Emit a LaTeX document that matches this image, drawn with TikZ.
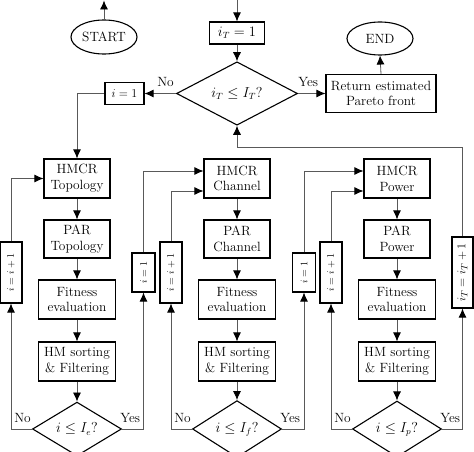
\documentclass[tikz,border=0pt]{standalone}
\usepackage{graphicx}
\usetikzlibrary{shapes.geometric,arrows.meta,calc}
\begin{document}
\begin{tikzpicture}[x=1pt,y=-1pt, font=\fontsize{13.4}{15.7}\selectfont,
 box/.style={draw, line width=1.1pt, inner sep=0pt, align=center},
 term/.style={draw, ellipse, line width=1.1pt, inner sep=0pt},
 dec/.style={draw, diamond, line width=1.1pt, inner sep=0pt},
 smallm/.style={font=\fontsize{10.4}{12}\selectfont},
 arr/.style={draw=black!65, line width=0.8pt, -{Latex[color=black,length=9pt,width=8pt]}},
 lab/.style={inner sep=1pt}]
\useasboundingbox (0,0) rectangle (474,452);
% top part
\node[term, minimum width=66pt, minimum height=34pt] (start) at (104,37) {START};
\coordinate (startup) at (104,0.5);
\draw[arr] (start.north) -- (startup);
\coordinate (topin) at (237,0);
\node[box, minimum width=55pt, minimum height=22pt] (it1) at (237,33) {$i_T=1$};
\draw[arr] (topin) -- (it1.north);
\node[dec, minimum width=121pt, minimum height=55pt] (dtop) at (237,93.5) {$i_T\le I_T?$};
\draw[arr] (it1.south) -- (dtop.north);
\node[box, minimum width=110pt, minimum height=38pt] (ret) at (381,93.5) {Return estimated\\Pareto front};
\node[term, minimum width=66pt, minimum height=33pt] (end) at (380,38.5) {END};
\draw[arr] (ret.north) -- (end.south);
\node[box, minimum width=39pt, minimum height=22pt, font=\fontsize{11.5}{13}\selectfont] (ione) at (124.5,93.5) {$i=1$};
\draw[arr] (dtop.west) -- (ione.east);
\draw[arr] (dtop.east) -- (ret.west);
\node[lab, anchor=south east] (notop) at ($(dtop.west)+(-1,-6)$) {No};
\node[lab, anchor=south west] (yestop) at ($(dtop.east)+(-1,-6)$) {Yes};
% columns
\foreach \c/\x/\nm/\sub in {1/77/Topology/e,2/237/Channel/f,3/397/Power/p}{
 \node[box, minimum width=66pt, minimum height=39pt] (h\c) at (\x,178.5) {HMCR\\\nm};
 \node[box, minimum width=66pt, minimum height=38pt] (p\c) at (\x,239) {PAR\\\nm};
 \node[box, minimum width=77pt, minimum height=39pt] (f\c) at (\x,299.5) {Fitness\\evaluation};
 \node[box, minimum width=77pt, minimum height=39pt] (s\c) at (\x,361.5) {HM sorting\\\& Filtering};
 \node[dec, minimum width=89pt, minimum height=42pt] (d\c) at (\x,429) {$i\le I_\sub?$};
 \draw[arr] (h\c.south) -- (p\c.north);
 \draw[arr] (p\c.south) -- (f\c.north);
 \draw[arr] (f\c.south) -- (s\c.north);
 \draw[arr] (s\c.south) -- (d\c.north);
 \node[lab, anchor=south east] (no\c) at ($(d\c.west)+(0,-5)$) {No};
 \node[lab, anchor=south west] (yes\c) at ($(d\c.east)+(-3,-5)$) {Yes};
}
% side boxes
\node[box, smallm, minimum width=22pt, minimum height=61pt] (r1) at (11,272.5) {\rotatebox{90}{$i=i+1$}};
\node[box, smallm, minimum width=23pt, minimum height=39pt] (o2) at (143.5,272.5) {\rotatebox{90}{$i=1$}};
\node[box, smallm, minimum width=22pt, minimum height=61pt] (r2) at (171,272.5) {\rotatebox{90}{$i=i+1$}};
\node[box, smallm, minimum width=23pt, minimum height=39pt] (o3) at (304,272.5) {\rotatebox{90}{$i=1$}};
\node[box, smallm, minimum width=22pt, minimum height=61pt] (r3) at (331,272.5) {\rotatebox{90}{$i=i+1$}};
\node[box, minimum width=21pt, minimum height=71pt, font=\fontsize{12.4}{14}\selectfont] (rt) at (462.5,272.5) {\rotatebox{90}{$i_T=i_T+1$}};
% loops
\draw[arr] (ione.west) -| (h1.north);
\draw[arr] (d1.west) -| (r1.south);
\draw[arr] (r1.north) |- (h1.west);
\draw[arr] (d1.east) -| (o2.south);
\draw[arr] (o2.north) |- ($(h2.west)+(0,-7.5)$);
\draw[arr] (r2.north) |- ($(h2.west)+(0,12.5)$);
\draw[arr] (d2.west) -| (r2.south);
\draw[arr] (d2.east) -| (o3.south);
\draw[arr] (o3.north) |- ($(h3.west)+(0,-7.5)$);
\draw[arr] (r3.north) |- ($(h3.west)+(0,12.5)$);
\draw[arr] (d3.west) -| (r3.south);
\draw[arr] (d3.east) -| (rt.south);
\draw[arr] (rt.north) |- ($(dtop.south)+(0,21.5)$) -- (dtop.south);
\end{tikzpicture}
\end{document}
